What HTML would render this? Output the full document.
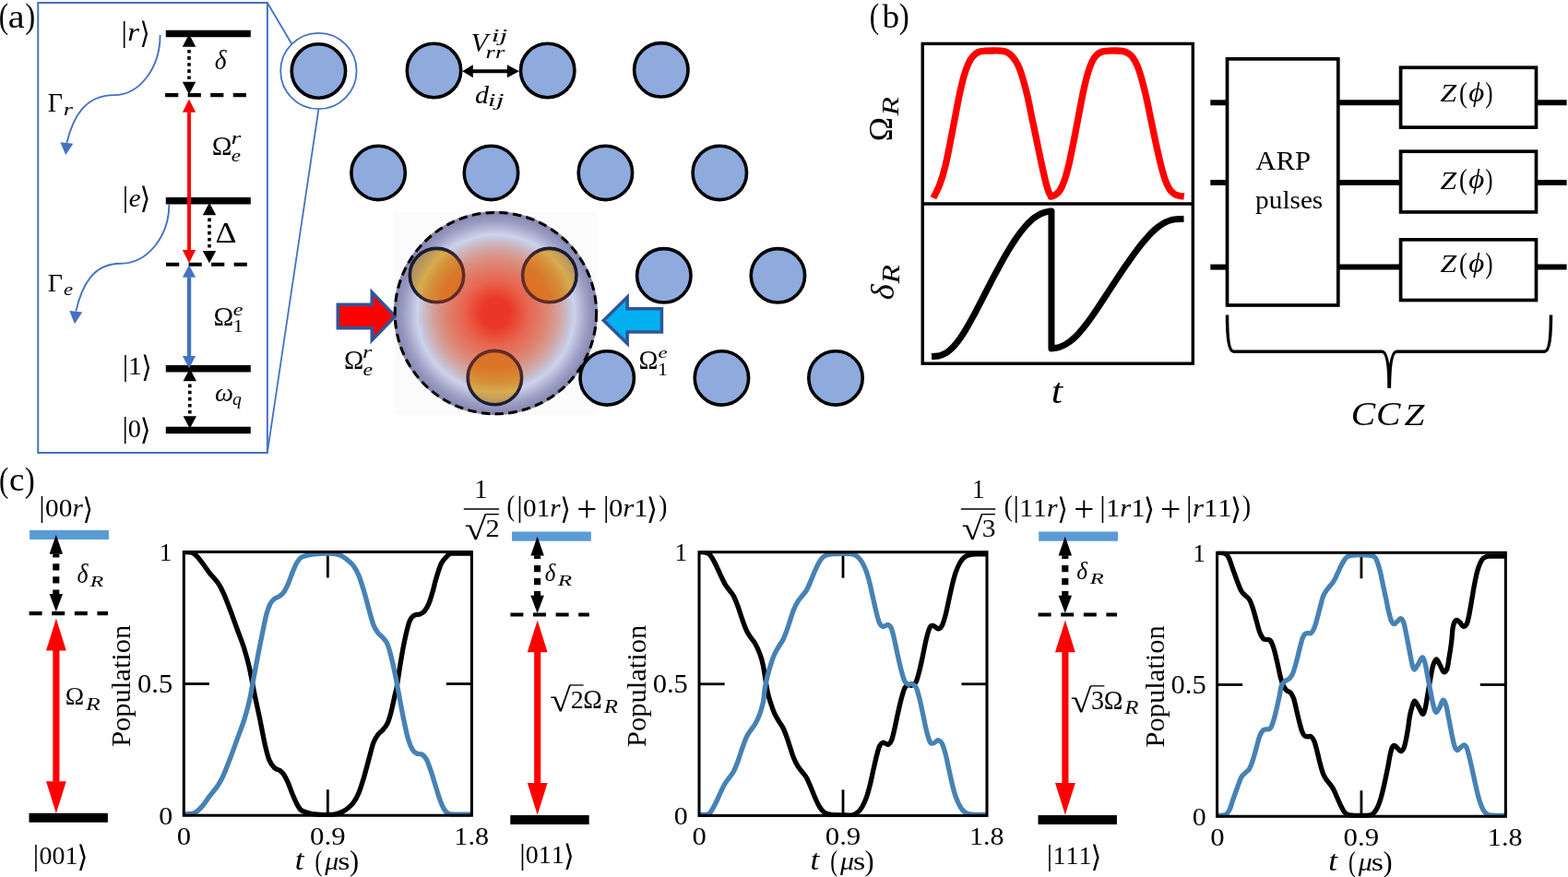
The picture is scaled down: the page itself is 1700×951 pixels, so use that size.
<!DOCTYPE html>
<html lang="en">
<head>
<meta charset="utf-8">
<title>Rydberg ARP CCZ gate figure</title>
<style>
html,body{margin:0;padding:0;background:#fff;}
body{width:1700px;height:951px;overflow:hidden;}
svg{display:block;font-family:'Liberation Serif','DejaVu Serif',serif;font-kerning:none;font-variant-ligatures:none;}
text{white-space:pre;}
</style>
</head>
<body>
<svg width="1700" height="951" viewBox="0 0 1700 951">
<defs>
<radialGradient id="gDisc" gradientUnits="userSpaceOnUse" cx="537.4" cy="339.6" r="110.60000000000001">
<stop offset="0" stop-color="#EA3527"/>
<stop offset="0.14" stop-color="#EA3729"/>
<stop offset="0.23" stop-color="#EB4E3A"/>
<stop offset="0.32" stop-color="#E76651"/>
<stop offset="0.43" stop-color="#E17966"/>
<stop offset="0.53" stop-color="#DC8C7D"/>
<stop offset="0.61" stop-color="#D4A09A"/>
<stop offset="0.68" stop-color="#CDB4BC"/>
<stop offset="0.73" stop-color="#C8C4DA"/>
<stop offset="0.77" stop-color="#CCD3EB"/>
<stop offset="0.835" stop-color="#B4B8D8"/>
<stop offset="0.9" stop-color="#9C9EC4"/>
<stop offset="0.965" stop-color="#8C8CB4"/>
<stop offset="1" stop-color="#8584AA"/>
</radialGradient>
<radialGradient id="gAtom" gradientUnits="userSpaceOnUse" cx="537.4" cy="339.6" r="110.60000000000001">
<stop offset="0.25" stop-color="#DE6E22"/>
<stop offset="0.55" stop-color="#DB7628"/>
<stop offset="0.70" stop-color="#D4933C"/>
<stop offset="0.78" stop-color="#D6AC50"/>
<stop offset="0.88" stop-color="#B8955C"/>
<stop offset="1" stop-color="#97877C"/>
</radialGradient>
<radialGradient id="gAtomS" gradientUnits="userSpaceOnUse" cx="537.4" cy="339.6" r="110.60000000000001">
<stop offset="0.3" stop-color="#6E2E28"/>
<stop offset="0.6" stop-color="#55282A"/>
<stop offset="0.8" stop-color="#1F2236"/>
<stop offset="1" stop-color="#16172A"/>
</radialGradient>
</defs>
<g id="panel-a">
<text font-size="38.93"><tspan x="-1.17" y="30.21" textLength="10.37" lengthAdjust="spacingAndGlyphs">(</tspan><tspan x="8.78" y="29.8" font-size="35.5" textLength="17.87" lengthAdjust="spacingAndGlyphs">a</tspan><tspan x="27.13" y="30.21" textLength="11.02" lengthAdjust="spacingAndGlyphs">)</tspan></text>
<rect x="41.25" y="2.97" width="248.6" height="488" fill="none" stroke="#4472C4" stroke-width="2"/>
<line x1="289.85" y1="2.97" x2="316.5" y2="48" stroke="#4472C4" stroke-width="1.8"/>
<line x1="345.4" y1="118.5" x2="289.85" y2="490.9" stroke="#4472C4" stroke-width="1.8"/>
<line x1="179.8" y1="36.55" x2="271.8" y2="36.55" stroke="#000" stroke-width="7.4"/>
<line x1="179.8" y1="217.7" x2="271.8" y2="217.7" stroke="#000" stroke-width="7.4"/>
<line x1="179.8" y1="399.8" x2="271.8" y2="399.8" stroke="#000" stroke-width="7.4"/>
<line x1="179.8" y1="466.5" x2="271.8" y2="466.5" stroke="#000" stroke-width="7.4"/>
<line x1="179.1" y1="103.1" x2="267" y2="103.1" stroke="#000" stroke-width="4.1" stroke-dasharray="14.2 10.35"/>
<line x1="180" y1="286.8" x2="268" y2="286.8" stroke="#000" stroke-width="4.1" stroke-dasharray="14.2 10.35"/>
<path d="M173.6,38 C173.6,73.81 151.15,103.1 123.7,103.1 C91.89,103.1 79.07,127.19 72.4,154.9" fill="none" stroke="#4472C4" stroke-width="1.9"/>
<polygon points="71.2,168.1 65.4,154.3 79.4,155.8" fill="#4472C4"/>
<path d="M183.4,221 C183.4,256.64 159.69,285.8 130.7,285.8 C100.69,285.8 88.59,309.89 82.3,337.6" fill="none" stroke="#4472C4" stroke-width="1.9"/>
<polygon points="80.9,351.3 75.3,337 89.3,338.5" fill="#4472C4"/>
<line x1="205" y1="50.4" x2="205" y2="89.1" stroke="#000" stroke-width="3.6" stroke-dasharray="3.6 3.5" stroke-dashoffset="3.5"/>
<polygon points="205,37 197.8,50.7 212.2,50.7" fill="#000"/>
<polygon points="205,102.5 197.8,88.8 212.2,88.8" fill="#000"/>
<line x1="205" y1="121.5" x2="205" y2="271.4" stroke="#FF0000" stroke-width="3.9"/>
<polygon points="205,107.6 197.9,121.8 212.1,121.8" fill="#FF0000"/>
<polygon points="205,285.3 197.9,271.1 212.1,271.1" fill="#FF0000"/>
<line x1="227" y1="233" x2="227" y2="272.4" stroke="#000" stroke-width="3.6" stroke-dasharray="3.6 3.5" stroke-dashoffset="3.5"/>
<polygon points="227,219.8 219.8,233.3 234.2,233.3" fill="#000"/>
<polygon points="227,285.6 219.8,272.1 234.2,272.1" fill="#000"/>
<line x1="205" y1="300.4" x2="205" y2="386.4" stroke="#4472C4" stroke-width="4.4"/>
<polygon points="205,287.2 197.9,300.7 212.1,300.7" fill="#4472C4"/>
<polygon points="205,399.6 197.9,386.1 212.1,386.1" fill="#4472C4"/>
<line x1="205.8" y1="413" x2="205.8" y2="451.6" stroke="#000" stroke-width="3.6" stroke-dasharray="3.6 3.5" stroke-dashoffset="3.5"/>
<polygon points="205.8,399.8 198.6,413.3 213,413.3" fill="#000"/>
<polygon points="205.8,464.8 198.6,451.3 213,451.3" fill="#000"/>
<text font-size="32.11"><tspan x="131.58" y="44.56" font-size="31.44" textLength="6.43" lengthAdjust="spacingAndGlyphs">|</tspan><tspan x="138.16" y="44.2" font-size="27.6" font-style="italic" textLength="12.84" lengthAdjust="spacingAndGlyphs">r</tspan><tspan x="151.61" y="47.12" font-family="'DejaVu Serif',serif" textLength="11.14" lengthAdjust="spacingAndGlyphs">⟩</tspan></text>
<text font-size="32.11"><tspan x="132.78" y="223.86" font-size="31.44" textLength="6.43" lengthAdjust="spacingAndGlyphs">|</tspan><tspan x="139.71" y="223.5" font-size="27.6" font-style="italic" textLength="12.84" lengthAdjust="spacingAndGlyphs">e</tspan><tspan x="151.47" y="226.42" font-family="'DejaVu Serif',serif" textLength="11.84" lengthAdjust="spacingAndGlyphs">⟩</tspan></text>
<text font-size="32.11"><tspan x="132.78" y="406.66" font-size="31.44" textLength="6.43" lengthAdjust="spacingAndGlyphs">|</tspan><tspan x="138.83" y="406.3" font-size="27.6" textLength="15.2" lengthAdjust="spacingAndGlyphs">1</tspan><tspan x="153.14" y="409.22" font-family="'DejaVu Serif',serif" textLength="11.49" lengthAdjust="spacingAndGlyphs">⟩</tspan></text>
<text font-size="32.11"><tspan x="132.58" y="473.96" font-size="31.44" textLength="6.43" lengthAdjust="spacingAndGlyphs">|</tspan><tspan x="138.72" y="473.6" font-size="27.6" textLength="14.16" lengthAdjust="spacingAndGlyphs">0</tspan><tspan x="151.87" y="476.52" font-family="'DejaVu Serif',serif" textLength="11.84" lengthAdjust="spacingAndGlyphs">⟩</tspan></text>
<text font-size="28.51"><tspan x="232.7" y="75.32" font-style="italic" textLength="12.74" lengthAdjust="spacingAndGlyphs">δ</tspan></text>
<text font-size="18.89"><tspan x="229.79" y="168.1" font-size="29.3" textLength="21.73" lengthAdjust="spacingAndGlyphs">Ω</tspan><tspan x="250.48" y="155.9" font-style="italic" textLength="10.74" lengthAdjust="spacingAndGlyphs">r</tspan><tspan x="250.89" y="175.01" font-size="19.13" font-style="italic" textLength="10.23" lengthAdjust="spacingAndGlyphs">e</tspan></text>
<text font-size="30.6"><tspan x="233.64" y="262.6" textLength="23.01" lengthAdjust="spacingAndGlyphs">Δ</tspan></text>
<text font-size="18.71"><tspan x="231.59" y="353.3" font-size="29.3" textLength="21.73" lengthAdjust="spacingAndGlyphs">Ω</tspan><tspan x="252.86" y="342.02" font-style="italic" textLength="10.68" lengthAdjust="spacingAndGlyphs">e</tspan><tspan x="252.7" y="359.5" font-size="18.63" textLength="10.79" lengthAdjust="spacingAndGlyphs">1</tspan></text>
<text font-size="18.13"><tspan x="233.06" y="435.23" font-size="27.59" font-style="italic" textLength="19.98" lengthAdjust="spacingAndGlyphs">ω</tspan><tspan x="252.04" y="438.74" font-style="italic" textLength="9.92" lengthAdjust="spacingAndGlyphs">q</tspan></text>
<text font-size="19.31"><tspan x="51.69" y="120.9" font-size="29.63" textLength="16.21" lengthAdjust="spacingAndGlyphs">Γ</tspan><tspan x="68.74" y="124.7" font-style="italic" textLength="10.18" lengthAdjust="spacingAndGlyphs">r</tspan></text>
<text font-size="19.34"><tspan x="51.69" y="316.4" font-size="28.25" textLength="16.21" lengthAdjust="spacingAndGlyphs">Γ</tspan><tspan x="69.1" y="320.41" font-style="italic" textLength="10.11" lengthAdjust="spacingAndGlyphs">e</tspan></text>
</g>
<g id="atoms">
<circle cx="345.4" cy="77" r="41.2" fill="none" stroke="#4472C4" stroke-width="1.8"/>
<circle cx="345.4" cy="77" r="29.2" fill="#8FAADC" stroke="#000" stroke-width="3.6"/>
<circle cx="470.5" cy="76.5" r="29.2" fill="#8FAADC" stroke="#000" stroke-width="3.6"/>
<circle cx="593.7" cy="76.5" r="29.2" fill="#8FAADC" stroke="#000" stroke-width="3.6"/>
<circle cx="716.8" cy="75.8" r="29.2" fill="#8FAADC" stroke="#000" stroke-width="3.6"/>
<circle cx="410.1" cy="187.4" r="29.2" fill="#8FAADC" stroke="#000" stroke-width="3.6"/>
<circle cx="532.5" cy="187.4" r="29.2" fill="#8FAADC" stroke="#000" stroke-width="3.6"/>
<circle cx="656.4" cy="187.4" r="29.2" fill="#8FAADC" stroke="#000" stroke-width="3.6"/>
<circle cx="780.3" cy="187.4" r="29.2" fill="#8FAADC" stroke="#000" stroke-width="3.6"/>
<line x1="510" y1="77.2" x2="554" y2="77.2" stroke="#000" stroke-width="3.9"/>
<polygon points="501.2,77.2 512.8,70.2 512.8,84.2" fill="#000"/>
<polygon points="563,77.2 549.8,70.2 549.8,84.2" fill="#000"/>
<text font-size="18.68"><tspan x="510.51" y="56.45" font-size="29.41" font-style="italic" textLength="18.56" lengthAdjust="spacingAndGlyphs">V</tspan><tspan x="532.86" y="44.51" font-size="19.2" font-style="italic" textLength="17.41" lengthAdjust="spacingAndGlyphs">ij</tspan><tspan x="526.63" y="62.7" font-style="italic" textLength="20.59" lengthAdjust="spacingAndGlyphs">rr</tspan></text>
<text font-size="18.74"><tspan x="515.09" y="111.71" font-size="27.84" font-style="italic" textLength="15.04" lengthAdjust="spacingAndGlyphs">d</tspan><tspan x="528.83" y="114.71" font-style="italic" textLength="17.64" lengthAdjust="spacingAndGlyphs">ij</tspan></text>
<rect x="427" y="229.6" width="219.8" height="220.2" fill="#FBFBFB"/>
<circle cx="537.4" cy="339.6" r="110.6" fill="url(#gDisc)" stroke="none" stroke-width="0"/>
<circle cx="473.5" cy="298.6" r="29.2" fill="url(#gAtom)" stroke="url(#gAtomS)" stroke-width="3.6"/>
<circle cx="595.8" cy="298.6" r="29.2" fill="url(#gAtom)" stroke="url(#gAtomS)" stroke-width="3.6"/>
<circle cx="536.4" cy="409.6" r="29.2" fill="url(#gAtom)" stroke="url(#gAtomS)" stroke-width="3.6"/>
<circle cx="719.8" cy="298.8" r="29.2" fill="#8FAADC" stroke="#000" stroke-width="3.6"/>
<circle cx="843.4" cy="298.8" r="29.2" fill="#8FAADC" stroke="#000" stroke-width="3.6"/>
<polygon points="366.3,330.15 403.25,330.15 403.25,316.9 428.4,342.9 403.25,368.9 403.25,355.65 366.3,355.65" fill="#FF0000" stroke="#2F5597" stroke-width="3.5" stroke-linejoin="miter"/>
<polygon points="717.45,334.75 680.15,334.75 680.15,322.1 654.4,347.4 680.15,372.7 680.15,360.05 717.45,360.05" fill="#00B0F0" stroke="#2F5597" stroke-width="3.5" stroke-linejoin="miter"/>
<circle cx="537.4" cy="339.6" r="109.2" fill="none" stroke="#000" stroke-width="3" stroke-dasharray="9.4 5.4"/>
<circle cx="658.2" cy="409.9" r="29.2" fill="#8FAADC" stroke="#000" stroke-width="3.6"/>
<circle cx="782.4" cy="409.9" r="29.2" fill="#8FAADC" stroke="#000" stroke-width="3.6"/>
<circle cx="906" cy="409.9" r="29.2" fill="#8FAADC" stroke="#000" stroke-width="3.6"/>
<text font-size="18.25"><tspan x="373.12" y="399.7" font-size="28.39" textLength="21.26" lengthAdjust="spacingAndGlyphs">Ω</tspan><tspan x="393.13" y="388.3" font-style="italic" textLength="10.29" lengthAdjust="spacingAndGlyphs">r</tspan><tspan x="393.47" y="407.01" font-size="19.13" font-style="italic" textLength="10.57" lengthAdjust="spacingAndGlyphs">e</tspan></text>
<text font-size="17.47"><tspan x="692.54" y="399.7" font-size="28.39" textLength="20.91" lengthAdjust="spacingAndGlyphs">Ω</tspan><tspan x="713.6" y="388.23" font-style="italic" textLength="10.11" lengthAdjust="spacingAndGlyphs">e</tspan><tspan x="713.35" y="407" font-size="19.24" textLength="10.51" lengthAdjust="spacingAndGlyphs">1</tspan></text>
</g>
<g id="panel-b">
<text font-size="38.93"><tspan x="942.63" y="30.21" textLength="10.37" lengthAdjust="spacingAndGlyphs">(</tspan><tspan x="956.5" y="29.8" font-size="35.5" textLength="18.62" lengthAdjust="spacingAndGlyphs">b</tspan><tspan x="974.73" y="30.21" textLength="11.02" lengthAdjust="spacingAndGlyphs">)</tspan></text>
<rect x="1000.2" y="47.4" width="293.1" height="346.8" fill="none" stroke="#000" stroke-width="3.4"/>
<line x1="1000.2" y1="221" x2="1293.3" y2="221" stroke="#000" stroke-width="3.4"/>
<path d="M1011.98,214.79C1013.14,212.29 1016.81,205.63 1018.97,199.81C1021.14,193.98 1023.13,187.16 1024.96,179.83C1026.8,172.51 1028.29,164.18 1029.96,155.86C1031.62,147.54 1033.29,138.55 1034.95,129.89C1036.62,121.24 1038.28,111.75 1039.95,103.92C1041.61,96.1 1043.28,88.77 1044.94,82.95C1046.6,77.12 1048.27,72.63 1049.93,68.97C1051.6,65.3 1053.1,63.07 1054.93,60.97C1056.76,58.88 1058.76,57.35 1060.92,56.38C1063.08,55.41 1065.25,55.41 1067.91,55.18C1070.58,54.95 1074.07,54.98 1076.9,54.98C1079.73,54.98 1082.4,54.88 1084.89,55.18C1087.39,55.48 1089.72,55.71 1091.88,56.78C1094.05,57.85 1095.88,59.21 1097.88,61.57C1099.87,63.94 1102.04,67.07 1103.87,70.96C1105.7,74.86 1107.2,79.45 1108.86,84.95C1110.53,90.44 1112.19,96.77 1113.86,103.92C1115.52,111.08 1117.19,119.9 1118.85,127.89C1120.52,135.88 1122.18,143.88 1123.85,151.87C1125.51,159.86 1127.17,168.18 1128.84,175.84C1130.5,183.49 1132.44,192.32 1133.83,197.81C1135.23,203.3 1136.26,206.23 1137.23,208.8C1138.19,211.36 1139.23,212.46 1139.63,213.19 L1139.39,213.19C1140.16,212.89 1142.39,212.46 1143.99,211.39C1145.59,210.33 1147.32,209.4 1148.98,206.8C1150.65,204.2 1152.31,200.64 1153.98,195.81C1155.64,190.99 1157.31,184.83 1158.97,177.83C1160.64,170.84 1162.3,162.19 1163.97,153.86C1165.63,145.54 1167.29,136.55 1168.96,127.89C1170.62,119.24 1172.29,109.75 1173.95,101.93C1175.62,94.1 1177.28,86.78 1178.95,80.95C1180.61,75.12 1182.28,70.53 1183.94,66.97C1185.61,63.41 1187.1,61.41 1188.94,59.58C1190.77,57.75 1192.76,56.71 1194.93,55.98C1197.09,55.25 1199.59,55.35 1201.92,55.18C1204.25,55.02 1206.41,54.95 1208.91,54.98C1211.41,55.02 1214.57,54.95 1216.9,55.38C1219.23,55.81 1221.06,56.48 1222.89,57.58C1224.73,58.68 1226.22,59.74 1227.89,61.97C1229.55,64.2 1231.22,66.97 1232.88,70.96C1234.55,74.96 1236.21,80.12 1237.88,85.94C1239.54,91.77 1241.21,98.6 1242.87,105.92C1244.54,113.25 1246.2,121.9 1247.86,129.89C1249.53,137.88 1251.19,146.21 1252.86,153.86C1254.52,161.52 1256.19,169.18 1257.85,175.84C1259.52,182.5 1261.18,188.99 1262.85,193.82C1264.51,198.64 1266.18,202.07 1267.84,204.8C1269.51,207.53 1271.17,208.96 1272.83,210.2C1274.5,211.43 1276,211.73 1277.83,212.19C1279.66,212.66 1282.82,212.86 1283.82,212.99" fill="none" stroke="#FF0000" stroke-width="7.3" stroke-linejoin="round"/>
<path d="M1009.98,386.6C1010.73,386.56 1012.97,386.52 1014.46,386.35C1015.96,386.19 1017.45,386.01 1018.94,385.61C1020.44,385.21 1021.93,384.7 1023.42,383.97C1024.92,383.24 1026.41,382.33 1027.91,381.23C1029.4,380.12 1030.89,378.81 1032.39,377.32C1033.88,375.84 1035.38,374.14 1036.87,372.3C1038.36,370.46 1039.86,368.43 1041.35,366.27C1042.84,364.12 1044.34,361.79 1045.83,359.38C1047.33,356.97 1048.82,354.41 1050.31,351.8C1051.81,349.19 1053.3,346.46 1054.79,343.7C1056.29,340.94 1057.78,338.09 1059.28,335.24C1060.77,332.38 1062.26,329.47 1063.76,326.56C1065.25,323.66 1066.75,320.72 1068.24,317.8C1069.73,314.89 1071.23,311.96 1072.72,309.07C1074.21,306.18 1075.71,303.29 1077.2,300.45C1078.7,297.61 1080.19,294.79 1081.68,292.02C1083.18,289.26 1084.67,286.52 1086.16,283.85C1087.66,281.18 1089.15,278.56 1090.65,276C1092.14,273.45 1093.63,270.95 1095.13,268.53C1096.62,266.12 1098.12,263.77 1099.61,261.51C1101.1,259.26 1102.6,257.07 1104.09,255C1105.58,252.93 1107.08,250.95 1108.57,249.09C1110.07,247.23 1111.56,245.47 1113.05,243.85C1114.55,242.23 1116.04,240.72 1117.53,239.36C1119.03,238 1120.52,236.76 1122.02,235.68C1123.51,234.6 1125,233.65 1126.5,232.85C1127.99,232.05 1129.48,231.4 1130.98,230.87C1132.47,230.34 1133.97,229.96 1135.46,229.65C1136.95,229.34 1139.19,229.11 1139.94,229.01 L1139.94,378.04C1140.77,377.91 1143.24,377.63 1144.89,377.28C1146.54,376.93 1148.19,376.52 1149.84,375.92C1151.49,375.33 1153.14,374.6 1154.79,373.7C1156.45,372.79 1158.1,371.73 1159.75,370.5C1161.4,369.27 1163.05,367.87 1164.7,366.33C1166.35,364.79 1168,363.09 1169.65,361.28C1171.3,359.47 1172.95,357.51 1174.6,355.47C1176.25,353.43 1177.9,351.27 1179.55,349.05C1181.2,346.83 1182.85,344.51 1184.5,342.16C1186.15,339.81 1187.8,337.38 1189.45,334.94C1191.1,332.5 1192.75,330.01 1194.4,327.51C1196.05,325.02 1197.7,322.49 1199.35,319.97C1201,317.45 1202.65,314.92 1204.3,312.4C1205.96,309.88 1207.61,307.36 1209.26,304.86C1210.91,302.36 1212.56,299.87 1214.21,297.4C1215.86,294.94 1217.51,292.48 1219.16,290.07C1220.81,287.65 1222.46,285.26 1224.11,282.91C1225.76,280.56 1227.41,278.24 1229.06,275.98C1230.71,273.72 1232.36,271.5 1234.01,269.35C1235.66,267.2 1237.31,265.1 1238.96,263.09C1240.61,261.08 1242.26,259.13 1243.91,257.3C1245.56,255.46 1247.21,253.7 1248.86,252.08C1250.51,250.46 1252.16,248.93 1253.82,247.56C1255.47,246.18 1257.12,244.92 1258.77,243.82C1260.42,242.72 1262.07,241.77 1263.72,240.96C1265.37,240.16 1267.02,239.52 1268.67,239.01C1270.32,238.5 1271.97,238.16 1273.62,237.9C1275.27,237.65 1276.92,237.56 1278.57,237.47C1280.22,237.38 1282.7,237.39 1283.52,237.37" fill="none" stroke="#000" stroke-width="7" stroke-linejoin="round"/>
<text font-size="25.2" transform="rotate(-90)"><tspan x="-153.13" y="967.4" font-size="36.85" textLength="26.26" lengthAdjust="spacingAndGlyphs">Ω</tspan><tspan x="-125.62" y="973.7" font-style="italic" textLength="20.37" lengthAdjust="spacingAndGlyphs">R</tspan></text>
<text font-size="26.42" transform="rotate(-90)"><tspan x="-325.27" y="969.14" font-size="36.84" font-style="italic" textLength="16.99" lengthAdjust="spacingAndGlyphs">δ</tspan><tspan x="-307.42" y="975" font-style="italic" textLength="20.37" lengthAdjust="spacingAndGlyphs">R</tspan></text>
<text font-size="37.36"><tspan x="1139.86" y="437.44" font-style="italic" textLength="12.26" lengthAdjust="spacingAndGlyphs">t</tspan></text>
<line x1="1312.3" y1="111.3" x2="1330.5" y2="111.3" stroke="#000" stroke-width="6"/>
<line x1="1450.8" y1="111.3" x2="1518.6" y2="111.3" stroke="#000" stroke-width="6"/>
<line x1="1665.5" y1="111.3" x2="1698.6" y2="111.3" stroke="#000" stroke-width="6"/>
<line x1="1312.3" y1="198" x2="1330.5" y2="198" stroke="#000" stroke-width="6"/>
<line x1="1450.8" y1="198" x2="1518.6" y2="198" stroke="#000" stroke-width="6"/>
<line x1="1665.5" y1="198" x2="1698.6" y2="198" stroke="#000" stroke-width="6"/>
<line x1="1312.3" y1="289.6" x2="1330.5" y2="289.6" stroke="#000" stroke-width="6"/>
<line x1="1450.8" y1="289.6" x2="1518.6" y2="289.6" stroke="#000" stroke-width="6"/>
<line x1="1665.5" y1="289.6" x2="1698.6" y2="289.6" stroke="#000" stroke-width="6"/>
<rect x="1330.5" y="63.9" width="120.3" height="267.1" fill="#fff" stroke="#000" stroke-width="3.7"/>
<rect x="1518.6" y="73.25" width="146.9" height="64.85" fill="#fff" stroke="#000" stroke-width="3.7"/>
<text font-size="31.32"><tspan x="1561.61" y="110.1" font-size="28.25" font-style="italic" textLength="17.62" lengthAdjust="spacingAndGlyphs">Z</tspan><tspan x="1582.12" y="110.63" textLength="8.95" lengthAdjust="spacingAndGlyphs">(</tspan><tspan x="1592.35" y="109.85" font-size="28.89" font-style="italic" textLength="17.03" lengthAdjust="spacingAndGlyphs">ϕ</tspan><tspan x="1610.2" y="110.63" textLength="8.3" lengthAdjust="spacingAndGlyphs">)</tspan></text>
<rect x="1518.6" y="164.2" width="146.9" height="65.75" fill="#fff" stroke="#000" stroke-width="3.7"/>
<text font-size="31.32"><tspan x="1561.61" y="204.6" font-size="28.25" font-style="italic" textLength="17.62" lengthAdjust="spacingAndGlyphs">Z</tspan><tspan x="1582.12" y="205.13" textLength="8.95" lengthAdjust="spacingAndGlyphs">(</tspan><tspan x="1592.35" y="204.35" font-size="28.89" font-style="italic" textLength="17.03" lengthAdjust="spacingAndGlyphs">ϕ</tspan><tspan x="1610.2" y="205.13" textLength="8.3" lengthAdjust="spacingAndGlyphs">)</tspan></text>
<rect x="1518.6" y="259.85" width="146.9" height="65.65" fill="#fff" stroke="#000" stroke-width="3.7"/>
<text font-size="31.32"><tspan x="1561.61" y="295.1" font-size="28.25" font-style="italic" textLength="17.62" lengthAdjust="spacingAndGlyphs">Z</tspan><tspan x="1582.12" y="295.63" textLength="8.95" lengthAdjust="spacingAndGlyphs">(</tspan><tspan x="1592.35" y="294.85" font-size="28.89" font-style="italic" textLength="17.03" lengthAdjust="spacingAndGlyphs">ϕ</tspan><tspan x="1610.2" y="295.63" textLength="8.3" lengthAdjust="spacingAndGlyphs">)</tspan></text>
<text font-size="29.39"><tspan x="1361.3" y="184.3" textLength="59.93" lengthAdjust="spacingAndGlyphs">ARP</tspan></text>
<text font-size="28"><tspan x="1361.13" y="226.2" textLength="73.13" lengthAdjust="spacingAndGlyphs">pulses</tspan></text>
<path d="M1330.5,341.5 C1330.5,363.5 1332.0,381.2 1337.5,381.2 L1498.3,381.2 C1503.8,381.2 1506.0,397.2 1506.3,420.8 C1506.6,397.2 1508.8,381.2 1514.3,381.2 L1674.5,381.2 C1680.0,381.2 1681.5,363.5 1681.5,341.5" fill="none" stroke="#000" stroke-width="3.5" stroke-linejoin="bevel"/>
<line x1="1506.3" y1="395.2" x2="1506.3" y2="420.8" stroke="#000" stroke-width="3.5"/>
<text font-size="35"><tspan x="1464.69" y="461.28" font-style="italic" textLength="26.44" lengthAdjust="spacingAndGlyphs">C</tspan><tspan x="1491.99" y="461.28" font-style="italic" textLength="26.44" lengthAdjust="spacingAndGlyphs">C</tspan><tspan x="1522.52" y="461" font-size="33.9" font-style="italic" textLength="21.85" lengthAdjust="spacingAndGlyphs">Z</tspan></text>
</g>
<g id="panel-c">
<text font-size="38.93"><tspan x="-0.97" y="532.81" textLength="10.37" lengthAdjust="spacingAndGlyphs">(</tspan><tspan x="10.1" y="532.4" font-size="35.5" textLength="16.33" lengthAdjust="spacingAndGlyphs">c</tspan><tspan x="26.73" y="532.81" textLength="11.02" lengthAdjust="spacingAndGlyphs">)</tspan></text>
<line x1="32.1" y1="580" x2="117.95" y2="580" stroke="#5B9BD5" stroke-width="10.2"/>
<line x1="31.5" y1="886.8" x2="116.9" y2="886.8" stroke="#000" stroke-width="10.1"/>
<line x1="31.6" y1="665.1" x2="117" y2="665.1" stroke="#000" stroke-width="4.2" stroke-dasharray="14 10.6"/>
<line x1="60.8" y1="600.5" x2="60.8" y2="644.4" stroke="#000" stroke-width="7.1" stroke-dasharray="7.2 6.87" stroke-dashoffset="3.3"/>
<polygon points="60.8,580.1 53.55,600.8 68.05,600.8" fill="#000"/>
<polygon points="60.8,663.3 53.55,644.1 68.05,644.1" fill="#000"/>
<line x1="60.9" y1="705.1" x2="60.9" y2="847.6" stroke="#FF0000" stroke-width="7.1"/>
<polygon points="60.9,670.8 50,705.4 71.8,705.4" fill="#FF0000"/>
<polygon points="60.9,881.9 50,847.3 71.8,847.3" fill="#FF0000"/>
<line x1="555" y1="581.7" x2="640.85" y2="581.7" stroke="#5B9BD5" stroke-width="10.2"/>
<line x1="553.3" y1="889" x2="638.7" y2="889" stroke="#000" stroke-width="10.1"/>
<line x1="553.4" y1="666.5" x2="638.8" y2="666.5" stroke="#000" stroke-width="4.2" stroke-dasharray="14 10.6"/>
<line x1="582.6" y1="602.2" x2="582.6" y2="646.1" stroke="#000" stroke-width="7.1" stroke-dasharray="7.2 6.87" stroke-dashoffset="3.3"/>
<polygon points="582.6,581.8 575.35,602.5 589.85,602.5" fill="#000"/>
<polygon points="582.6,665 575.35,645.8 589.85,645.8" fill="#000"/>
<line x1="582.7" y1="706.9" x2="582.7" y2="849.4" stroke="#FF0000" stroke-width="7.1"/>
<polygon points="582.7,672.6 571.8,707.2 593.6,707.2" fill="#FF0000"/>
<polygon points="582.7,883.7 571.8,849.1 593.6,849.1" fill="#FF0000"/>
<line x1="1126.2" y1="581.7" x2="1212.05" y2="581.7" stroke="#5B9BD5" stroke-width="10.2"/>
<line x1="1125.5" y1="889" x2="1210.9" y2="889" stroke="#000" stroke-width="10.1"/>
<line x1="1125.6" y1="666.5" x2="1211" y2="666.5" stroke="#000" stroke-width="4.2" stroke-dasharray="14 10.6"/>
<line x1="1154.8" y1="602.2" x2="1154.8" y2="646.1" stroke="#000" stroke-width="7.1" stroke-dasharray="7.2 6.87" stroke-dashoffset="3.3"/>
<polygon points="1154.8,581.8 1147.55,602.5 1162.05,602.5" fill="#000"/>
<polygon points="1154.8,665 1147.55,645.8 1162.05,645.8" fill="#000"/>
<line x1="1154.9" y1="706.9" x2="1154.9" y2="849.4" stroke="#FF0000" stroke-width="7.1"/>
<polygon points="1154.9,672.6 1144,707.2 1165.8,707.2" fill="#FF0000"/>
<polygon points="1154.9,883.7 1144,849.1 1165.8,849.1" fill="#FF0000"/>
<text font-size="27.6"><tspan x="42.18" y="559.96" font-size="31.44" textLength="6.43" lengthAdjust="spacingAndGlyphs">|</tspan><tspan x="49.08" y="559.6" textLength="29.32" lengthAdjust="spacingAndGlyphs">00</tspan><tspan x="78.4" y="559.6" font-style="italic" textLength="11.41" lengthAdjust="spacingAndGlyphs">r</tspan><tspan x="89.44" y="562.52" font-size="32.11" font-family="'DejaVu Serif',serif" textLength="11.49" lengthAdjust="spacingAndGlyphs">⟩</tspan></text>
<text font-size="32.11"><tspan x="35.78" y="937.56" font-size="31.44" textLength="6.43" lengthAdjust="spacingAndGlyphs">|</tspan><tspan x="42.64" y="937.2" font-size="27.6" textLength="41.84" lengthAdjust="spacingAndGlyphs">001</tspan><tspan x="83.53" y="940.12" font-family="'DejaVu Serif',serif" textLength="12.02" lengthAdjust="spacingAndGlyphs">⟩</tspan></text>
<text font-size="17.26"><tspan x="83.54" y="631.52" font-size="28.65" font-style="italic" textLength="12.02" lengthAdjust="spacingAndGlyphs">δ</tspan><tspan x="97.83" y="635.9" font-style="italic" textLength="14.47" lengthAdjust="spacingAndGlyphs">R</tspan></text>
<text font-size="26.58"><tspan x="70.78" y="763.8" textLength="20.45" lengthAdjust="spacingAndGlyphs">Ω</tspan><tspan x="92.94" y="769.8" font-size="18.94" font-style="italic" textLength="15.69" lengthAdjust="spacingAndGlyphs">R</tspan></text>
<line x1="502.8" y1="551.9" x2="541.1" y2="551.9" stroke="#000" stroke-width="1.5"/>
<line x1="527.1" y1="557.65" x2="540.8" y2="557.65" stroke="#000" stroke-width="1.4"/>
<text font-size="27.19"><tspan x="513.93" y="540.4" font-size="28.48" textLength="14.63" lengthAdjust="spacingAndGlyphs">1</tspan><tspan x="503.72" y="585.06" font-size="35.47" textLength="23.82" lengthAdjust="spacingAndGlyphs">√</tspan><tspan x="526.56" y="581.8" textLength="15.22" lengthAdjust="spacingAndGlyphs">2</tspan></text>
<text font-size="27.6"><tspan x="549.55" y="559.38" font-size="31.1" textLength="8.69" lengthAdjust="spacingAndGlyphs">(</tspan><tspan x="560.38" y="560.06" font-size="31.44" textLength="6.43" lengthAdjust="spacingAndGlyphs">|</tspan><tspan x="567.09" y="559.7" textLength="29.17" lengthAdjust="spacingAndGlyphs">01</tspan><tspan x="596.26" y="559.7" font-style="italic" textLength="11.35" lengthAdjust="spacingAndGlyphs">r</tspan><tspan x="607.31" y="562.62" font-size="32.11" font-family="'DejaVu Serif',serif" textLength="11.67" lengthAdjust="spacingAndGlyphs">⟩</tspan><tspan x="615.37" y="565.27" font-size="39.07" textLength="41.61" lengthAdjust="spacingAndGlyphs"> + </tspan><tspan x="653.98" y="560.06" font-size="31.44" textLength="6.43" lengthAdjust="spacingAndGlyphs">|</tspan><tspan x="659.93" y="559.7" textLength="15.34" lengthAdjust="spacingAndGlyphs">0</tspan><tspan x="675.27" y="559.7" font-style="italic" textLength="11.94" lengthAdjust="spacingAndGlyphs">r</tspan><tspan x="687.21" y="559.7" textLength="15.34" lengthAdjust="spacingAndGlyphs">1</tspan><tspan x="700.76" y="562.62" font-size="32.11" font-family="'DejaVu Serif',serif" textLength="12.37" lengthAdjust="spacingAndGlyphs">⟩</tspan><tspan x="714.22" y="559.38" font-size="31.1" textLength="9.08" lengthAdjust="spacingAndGlyphs">)</tspan></text>
<text font-size="16.65"><tspan x="590.87" y="629.74" font-size="26.96" font-style="italic" textLength="11.6" lengthAdjust="spacingAndGlyphs">δ</tspan><tspan x="604.84" y="634.9" font-style="italic" textLength="15.38" lengthAdjust="spacingAndGlyphs">R</tspan></text>
<line x1="1041.8" y1="551.9" x2="1079.3" y2="551.9" stroke="#000" stroke-width="1.5"/>
<line x1="1065.3" y1="557.65" x2="1079" y2="557.65" stroke="#000" stroke-width="1.4"/>
<text font-size="26.79"><tspan x="1053.75" y="540.4" font-size="28.48" textLength="13.92" lengthAdjust="spacingAndGlyphs">1</tspan><tspan x="1042.76" y="585.06" font-size="35.47" textLength="22.98" lengthAdjust="spacingAndGlyphs">√</tspan><tspan x="1064.69" y="581.54" textLength="14.77" lengthAdjust="spacingAndGlyphs">3</tspan></text>
<text font-size="27.6"><tspan x="1088.8" y="559.38" font-size="31.1" textLength="9.08" lengthAdjust="spacingAndGlyphs">(</tspan><tspan x="1098.58" y="560.06" font-size="31.44" textLength="6.43" lengthAdjust="spacingAndGlyphs">|</tspan><tspan x="1105.3" y="559.7" textLength="29.6" lengthAdjust="spacingAndGlyphs">11</tspan><tspan x="1134.9" y="559.7" font-style="italic" textLength="11.52" lengthAdjust="spacingAndGlyphs">r</tspan><tspan x="1146.31" y="562.62" font-size="32.11" font-family="'DejaVu Serif',serif" textLength="11.67" lengthAdjust="spacingAndGlyphs">⟩</tspan><tspan x="1154.47" y="565.27" font-size="39.07" textLength="41.61" lengthAdjust="spacingAndGlyphs"> + </tspan><tspan x="1192.28" y="560.06" font-size="31.44" textLength="6.43" lengthAdjust="spacingAndGlyphs">|</tspan><tspan x="1199.01" y="559.7" textLength="15.31" lengthAdjust="spacingAndGlyphs">1</tspan><tspan x="1214.32" y="559.7" font-style="italic" textLength="11.91" lengthAdjust="spacingAndGlyphs">r</tspan><tspan x="1226.23" y="559.7" textLength="15.31" lengthAdjust="spacingAndGlyphs">1</tspan><tspan x="1239.86" y="562.62" font-size="32.11" font-family="'DejaVu Serif',serif" textLength="12.37" lengthAdjust="spacingAndGlyphs">⟩</tspan><tspan x="1248.15" y="565.27" font-size="39.07" textLength="42.07" lengthAdjust="spacingAndGlyphs"> + </tspan><tspan x="1285.98" y="560.06" font-size="31.44" textLength="6.43" lengthAdjust="spacingAndGlyphs">|</tspan><tspan x="1292.95" y="559.7" font-style="italic" textLength="11.96" lengthAdjust="spacingAndGlyphs">r</tspan><tspan x="1304.91" y="559.7" textLength="30.73" lengthAdjust="spacingAndGlyphs">11</tspan><tspan x="1334.1" y="562.62" font-size="32.11" font-family="'DejaVu Serif',serif" textLength="12.2" lengthAdjust="spacingAndGlyphs">⟩</tspan><tspan x="1346.7" y="559.38" font-size="31.1" textLength="9.34" lengthAdjust="spacingAndGlyphs">)</tspan></text>
<text font-size="16.8"><tspan x="1167.36" y="628.33" font-size="27.24" font-style="italic" textLength="11.81" lengthAdjust="spacingAndGlyphs">δ</tspan><tspan x="1181.83" y="633.3" font-style="italic" textLength="14.98" lengthAdjust="spacingAndGlyphs">R</tspan></text>
<text font-size="32.11"><tspan x="563.18" y="936.76" font-size="31.44" textLength="6.43" lengthAdjust="spacingAndGlyphs">|</tspan><tspan x="569.74" y="936.4" font-size="27.6" textLength="41.94" lengthAdjust="spacingAndGlyphs">011</tspan><tspan x="611.11" y="939.32" font-family="'DejaVu Serif',serif" textLength="11.67" lengthAdjust="spacingAndGlyphs">⟩</tspan></text>
<text font-size="32.11"><tspan x="1134.68" y="937.76" font-size="31.44" textLength="6.43" lengthAdjust="spacingAndGlyphs">|</tspan><tspan x="1141.54" y="937.4" font-size="27.6" textLength="42.05" lengthAdjust="spacingAndGlyphs">111</tspan><tspan x="1182.47" y="940.32" font-family="'DejaVu Serif',serif" textLength="11.84" lengthAdjust="spacingAndGlyphs">⟩</tspan></text>
<line x1="617.9" y1="742.95" x2="632.6" y2="742.95" stroke="#000" stroke-width="1.3"/>
<text font-size="27.94"><tspan x="596.27" y="770.75" font-size="35.85" textLength="22.67" lengthAdjust="spacingAndGlyphs">√</tspan><tspan x="618.77" y="768.1" textLength="13.97" lengthAdjust="spacingAndGlyphs">2</tspan><tspan x="632.37" y="768.1" font-size="30.06" textLength="20.56" lengthAdjust="spacingAndGlyphs">Ω</tspan><tspan x="654.73" y="772.8" font-size="20.31" font-style="italic" textLength="15.18" lengthAdjust="spacingAndGlyphs">R</tspan></text>
<line x1="1182.5" y1="743.85" x2="1197.4" y2="743.85" stroke="#000" stroke-width="1.3"/>
<text font-size="35.85"><tspan x="1160.87" y="771.65" textLength="22.67" lengthAdjust="spacingAndGlyphs">√</tspan><tspan x="1183.06" y="769.02" font-size="28.58" textLength="14.04" lengthAdjust="spacingAndGlyphs">3</tspan><tspan x="1196.86" y="768.9" font-size="30.06" textLength="20.68" lengthAdjust="spacingAndGlyphs">Ω</tspan><tspan x="1219.23" y="773.6" font-size="20.31" font-style="italic" textLength="15.18" lengthAdjust="spacingAndGlyphs">R</tspan></text>
<clipPath id="clip199"><rect x="199.3" y="597" width="312.1" height="288.7"/></clipPath>
<line x1="355.35" y1="598.5" x2="355.35" y2="626.5" stroke="#000" stroke-width="2.8"/>
<line x1="355.35" y1="884.2" x2="355.35" y2="856.2" stroke="#000" stroke-width="2.8"/>
<line x1="199.3" y1="741.55" x2="226.9" y2="741.55" stroke="#000" stroke-width="2.8"/>
<line x1="511.4" y1="741.55" x2="483.8" y2="741.55" stroke="#000" stroke-width="2.8"/>
<g clip-path="url(#clip199)" stroke-linejoin="round">
<path d="M199.33,598.66C200.49,598.69 204.51,598.6 206.29,598.85C208.08,599.1 208.8,599.38 210.06,600.16C211.31,600.95 212.25,601.8 213.82,603.55C215.39,605.31 217.27,607.79 219.47,610.71C221.67,613.62 224.18,617.45 227,621.06C229.82,624.67 233.9,628.75 236.41,632.35C238.92,635.96 239.86,637.84 242.06,642.71C244.25,647.57 247.08,654.94 249.59,661.53C252.1,668.12 254.61,675.33 257.12,682.24C259.63,689.14 262.45,696.04 264.65,702.94C266.84,709.84 268.41,715.36 270.29,723.65C272.18,731.93 274.06,743.41 275.94,752.64C277.82,761.86 279.71,769.89 281.59,778.99C283.47,788.09 285.51,799.69 287.24,807.22C288.96,814.75 290.22,819.93 291.94,824.16C293.67,828.4 295.71,830.75 297.59,832.64C299.47,834.52 301.51,834.2 303.24,835.46C304.96,836.71 306.37,837.81 307.94,840.16C309.51,842.52 311.08,845.97 312.65,849.58C314.22,853.18 315.78,858.05 317.35,861.81C318.92,865.58 320.49,869.34 322.06,872.16C323.63,874.99 324.57,877.15 326.76,878.75C328.96,880.35 332.82,881.07 335.24,881.76C337.65,882.45 339.28,882.61 341.26,882.89C343.24,883.18 344.74,883.36 347.09,883.46C349.45,883.56 352.84,883.54 355.38,883.5C357.92,883.45 360.3,883.48 362.34,883.2C364.38,882.91 366.01,882.32 367.61,881.76C369.21,881.21 370.28,880.85 371.94,879.88C373.6,878.91 375.71,877.53 377.59,875.93C379.47,874.33 381.35,872.95 383.24,870.28C385.12,867.62 387,864.48 388.88,859.93C390.76,855.38 392.65,849.26 394.53,842.99C396.41,836.71 398.45,828.56 400.18,822.28C401.9,816.01 403.31,809.58 404.88,805.34C406.45,801.11 407.86,799.22 409.59,796.87C411.31,794.52 413.51,793.26 415.24,791.22C416.96,789.18 418.53,787.62 419.94,784.64C421.35,781.65 422.29,778.67 423.71,773.34C425.12,768.01 427.31,757.47 428.41,752.64C429.51,747.8 429.2,750.75 430.29,744.35C431.39,737.95 433.43,723.33 435,714.24C436.57,705.14 438.14,696.67 439.71,689.76C441.27,682.86 442.84,676.59 444.41,672.82C445.98,669.06 447.24,668.34 449.12,667.18C451,666.02 453.82,666.64 455.71,665.86C457.59,665.07 458.84,664.45 460.41,662.47C461.98,660.49 463.55,657.92 465.12,654C466.69,650.08 468.66,642.96 469.82,638.94C470.98,634.93 470.83,634.14 472.08,629.91C473.34,625.67 476.07,617.04 477.35,613.53C478.64,610.02 478.95,610.17 479.8,608.82C480.65,607.47 481.21,606.75 482.44,605.44C483.66,604.12 485.57,601.81 487.14,600.92C488.71,600.02 487.83,600.21 491.85,600.07C495.86,599.93 508,600.05 511.24,600.05" fill="none" stroke="#000" stroke-width="5.3"/>
<path d="M199.33,883.08C200.96,882.93 206.7,882.71 209.12,882.14C211.53,881.58 212.1,881.04 213.82,879.69C215.55,878.35 217.27,876.71 219.47,874.05C221.67,871.38 224.18,867.46 227,863.69C229.82,859.93 233.9,855.22 236.41,851.46C238.92,847.69 239.86,845.97 242.06,841.11C244.25,836.24 247.08,828.87 249.59,822.28C252.1,815.69 254.61,808.48 257.12,801.58C259.63,794.67 262.45,787.77 264.65,780.87C266.84,773.97 268.73,766.88 270.29,760.16C271.86,753.45 272.49,748.87 274.06,740.59C275.63,732.31 277.82,720.2 279.71,710.47C281.59,700.75 283.78,689.76 285.35,682.24C286.92,674.71 287.86,669.84 289.12,665.29C290.37,660.75 291.47,657.61 292.88,654.94C294.29,652.27 295.86,650.71 297.59,649.29C299.31,647.88 301.51,647.73 303.24,646.47C304.96,645.22 306.37,644.12 307.94,641.76C309.51,639.41 311.08,635.96 312.65,632.35C314.22,628.75 315.78,623.88 317.35,620.12C318.92,616.35 320.49,612.4 322.06,609.76C323.63,607.13 324.57,605.63 326.76,604.31C328.96,602.98 332.82,602.39 335.24,601.8C337.65,601.22 339.28,601.06 341.26,600.8C343.24,600.55 344.74,600.4 347.09,600.3C349.45,600.2 352.84,600.18 355.38,600.2C357.92,600.22 360.3,600.14 362.34,600.41C364.38,600.68 366.01,601.25 367.61,601.8C369.21,602.36 370.28,602.73 371.94,603.74C373.6,604.75 375.71,606.25 377.59,607.88C379.47,609.51 381.35,610.86 383.24,613.53C385.12,616.2 387,619.33 388.88,623.88C390.76,628.43 392.65,634.55 394.53,640.82C396.41,647.1 398.45,655.41 400.18,661.53C401.9,667.65 403.31,673.45 404.88,677.53C406.45,681.61 407.86,683.65 409.59,686C411.31,688.35 413.51,689.61 415.24,691.65C416.96,693.69 418.53,695.1 419.94,698.24C421.35,701.37 422.29,704.98 423.71,710.47C425.12,715.96 426.84,723.52 428.41,731.18C429.98,738.83 431.55,748.12 433.12,756.4C434.69,764.68 436.25,773.34 437.82,780.87C439.39,788.4 440.96,796.24 442.53,801.58C444.1,806.91 445.67,810.27 447.24,812.87C448.8,815.47 450.22,816.32 451.94,817.2C453.67,818.08 455.86,817.14 457.59,818.14C459.31,819.15 460.73,820.34 462.29,823.22C463.86,826.11 465.43,830.91 467,835.46C468.57,840.01 470.14,845.5 471.71,850.52C473.27,855.54 474.84,861.18 476.41,865.58C477.98,869.97 479.55,874.11 481.12,876.87C482.69,879.63 483.94,881.11 485.82,882.14C487.71,883.18 488.21,882.93 492.41,883.08C496.62,883.24 507.94,883.08 511.05,883.08" fill="none" stroke="#4682B4" stroke-width="5.3"/>
</g>
<rect x="199.3" y="598.5" width="312.1" height="285.7" fill="none" stroke="#000" stroke-width="3.05"/>
<g transform="translate(0,0)">
<text font-size="27.87"><tspan x="172.8" y="608" textLength="13.63" lengthAdjust="spacingAndGlyphs">1</tspan></text>
<text font-size="28.42"><tspan x="149.04" y="751.2" textLength="38.15" lengthAdjust="spacingAndGlyphs">0.5</tspan></text>
<text font-size="27.12"><tspan x="172.16" y="894.14" textLength="14.98" lengthAdjust="spacingAndGlyphs">0</tspan></text>
<text font-size="28.16"><tspan x="191.83" y="916.13" textLength="15.34" lengthAdjust="spacingAndGlyphs">0</tspan></text>
<text font-size="27.97"><tspan x="336.03" y="916" textLength="38.54" lengthAdjust="spacingAndGlyphs">0.9</tspan></text>
<text font-size="27.97"><tspan x="492.36" y="916" textLength="37.59" lengthAdjust="spacingAndGlyphs">1.8</tspan></text>
<text font-size="27"><tspan x="319.86" y="943.2" font-size="31.08" font-style="italic" textLength="9.74" lengthAdjust="spacingAndGlyphs">t</tspan><tspan x="335.52" y="943.93" font-size="30.88" textLength="13.85" lengthAdjust="spacingAndGlyphs"> (</tspan><tspan x="352.33" y="943.3" font-style="italic" textLength="14.96" lengthAdjust="spacingAndGlyphs">μ</tspan><tspan x="366.31" y="943.3" textLength="13.22" lengthAdjust="spacingAndGlyphs">s</tspan><tspan x="378.92" y="943.93" font-size="30.88" textLength="10.11" lengthAdjust="spacingAndGlyphs">)</tspan></text>
<text font-size="28.4" transform="rotate(-90)"><tspan x="-809.88" y="141.4" textLength="132.24" lengthAdjust="spacingAndGlyphs">Population</tspan></text>
</g>
<clipPath id="clip758"><rect x="758" y="597.2" width="312" height="288.7"/></clipPath>
<line x1="914" y1="598.7" x2="914" y2="626.7" stroke="#000" stroke-width="2.8"/>
<line x1="914" y1="884.4" x2="914" y2="856.4" stroke="#000" stroke-width="2.8"/>
<line x1="758" y1="741.75" x2="785.6" y2="741.75" stroke="#000" stroke-width="2.8"/>
<line x1="1070" y1="741.75" x2="1042.4" y2="741.75" stroke="#000" stroke-width="2.8"/>
<g clip-path="url(#clip758)" stroke-linejoin="round">
<path d="M757.95,598.66C759.18,598.72 763.44,598.66 765.29,599.04C767.15,599.41 767.96,599.98 769.06,600.92C770.16,601.86 770.63,602.58 771.88,604.68C773.14,606.78 775.02,610.33 776.59,613.53C778.16,616.73 779.73,620.59 781.29,623.88C782.86,627.18 784.43,630.63 786,633.29C787.57,635.96 789.14,637.69 790.71,639.88C792.27,642.08 793.84,643.49 795.41,646.47C796.98,649.45 798.55,653.53 800.12,657.76C801.69,662 803.25,667.49 804.82,671.88C806.39,676.27 807.96,680.82 809.53,684.12C811.1,687.41 812.67,689.29 814.24,691.65C815.8,694 817.37,695.41 818.94,698.24C820.51,701.06 822.24,704.67 823.65,708.59C825.06,712.51 826,714.86 827.41,721.76C828.82,728.67 830.71,743.1 832.12,750C833.53,756.9 834.63,759.25 835.88,763.18C837.14,767.1 838.24,770.39 839.65,773.53C841.06,776.67 842.78,779.33 844.35,782C845.92,784.67 847.65,786.71 849.06,789.53C850.47,792.35 851.57,795.49 852.82,798.94C854.08,802.39 855.33,806.47 856.59,810.24C857.84,814 858.94,818.08 860.35,821.53C861.76,824.98 863.49,828.35 865.06,830.94C866.63,833.53 868.2,834.98 869.76,837.07C871.33,839.15 872.9,840.63 874.47,843.45C876.04,846.26 877.61,850.31 879.18,853.97C880.75,857.63 882.31,861.93 883.88,865.43C885.45,868.94 887.02,872.48 888.59,875.01C890.16,877.55 891.25,879.25 893.29,880.64C895.33,882.03 897.37,882.83 900.82,883.36C904.27,883.89 910.08,883.76 914,883.84C917.92,883.91 921.69,884.34 924.35,883.84C927.02,883.33 928.27,882.3 930,880.82C931.73,879.35 933.14,877.69 934.71,874.99C936.27,872.29 938,868.56 939.41,864.64C940.82,860.71 941.92,856.48 943.18,851.46C944.43,846.44 945.69,840.01 946.94,834.52C948.2,829.03 949.61,822.75 950.71,818.52C951.8,814.28 952.49,811.3 953.53,809.11C954.56,806.91 955.82,805.81 956.92,805.34C958.02,804.87 959.05,805.97 960.12,806.28C961.18,806.6 962.22,807.85 963.32,807.22C964.42,806.6 965.58,805.5 966.71,802.52C967.84,799.54 969,794.05 970.09,789.34C971.19,784.64 972.13,779.46 973.29,774.28C974.45,769.11 975.8,762.99 977.06,758.28C978.31,753.58 979.57,748.65 980.82,746.05C982.08,743.44 983.33,743.13 984.59,742.66C985.84,742.19 986.94,743.73 988.35,743.22C989.76,742.72 991.65,742.28 993.06,739.65C994.47,737.01 995.57,732.27 996.82,727.41C998.08,722.55 999.33,716.27 1000.59,710.47C1001.84,704.67 1003.1,697.61 1004.35,692.59C1005.61,687.57 1006.93,682.71 1008.12,680.35C1009.31,678 1010.41,678.47 1011.51,678.47C1012.6,678.47 1013.7,679.79 1014.71,680.35C1015.71,680.92 1016.43,682.17 1017.53,681.86C1018.63,681.55 1020.04,680.92 1021.29,678.47C1022.55,676.02 1023.8,671.88 1025.06,667.18C1026.31,662.47 1027.57,655.88 1028.82,650.24C1030.08,644.59 1031.33,638.31 1032.59,633.29C1033.84,628.27 1034.94,624.04 1036.35,620.12C1037.76,616.2 1039.49,612.43 1041.06,609.76C1042.63,607.1 1044.04,605.47 1045.76,604.12C1047.49,602.77 1049.22,602.2 1051.41,601.67C1053.61,601.14 1055.84,601.04 1058.94,600.92C1062.05,600.79 1068.2,600.92 1070.05,600.92" fill="none" stroke="#000" stroke-width="5.3"/>
<path d="M757.95,883.36C759.18,883.36 763.44,883.57 765.29,883.36C767.15,883.16 767.96,882.97 769.06,882.14C770.16,881.31 770.63,880.48 771.88,878.38C773.14,876.27 775.02,872.73 776.59,869.53C778.16,866.33 779.73,862.47 781.29,859.18C782.86,855.88 784.43,852.43 786,849.76C787.57,847.1 789.14,845.37 790.71,843.18C792.27,840.98 793.84,839.57 795.41,836.59C796.98,833.61 798.55,829.53 800.12,825.29C801.69,821.06 803.25,815.57 804.82,811.18C806.39,806.78 807.96,802.24 809.53,798.94C811.1,795.65 812.67,793.76 814.24,791.41C815.8,789.06 817.37,787.65 818.94,784.82C820.51,782 822.24,778.39 823.65,774.47C825.06,770.55 826.47,766 827.41,761.29C828.35,756.59 828.51,750.94 829.29,746.24C830.08,741.53 831.02,737.45 832.12,733.06C833.22,728.67 834.63,723.8 835.88,719.88C837.14,715.96 838.24,712.67 839.65,709.53C841.06,706.39 842.78,703.73 844.35,701.06C845.92,698.39 847.65,696.35 849.06,693.53C850.47,690.71 851.57,687.57 852.82,684.12C854.08,680.67 855.33,676.59 856.59,672.82C857.84,669.06 858.94,664.98 860.35,661.53C861.76,658.08 863.49,654.69 865.06,652.12C866.63,649.55 868.2,648.13 869.76,646.09C871.33,644.05 872.9,642.64 874.47,639.88C876.04,637.12 877.61,633.14 879.18,629.53C880.75,625.92 882.31,621.69 883.88,618.24C885.45,614.78 887.02,611.3 888.59,608.82C890.16,606.35 891.25,604.68 893.29,603.36C895.33,602.05 897.37,601.42 900.82,600.92C904.27,600.42 910.08,600.35 914,600.35C917.92,600.35 921.69,600.32 924.35,600.92C927.02,601.51 928.27,602.45 930,603.93C931.73,605.4 933.14,607.07 934.71,609.76C936.27,612.46 938,616.2 939.41,620.12C940.82,624.04 941.92,628.27 943.18,633.29C944.43,638.31 945.69,644.75 946.94,650.24C948.2,655.73 949.61,662 950.71,666.24C951.8,670.47 952.49,673.45 953.53,675.65C954.56,677.84 955.82,678.94 956.92,679.41C958.02,679.88 959.05,678.78 960.12,678.47C961.18,678.16 962.22,676.9 963.32,677.53C964.42,678.16 965.58,679.25 966.71,682.24C967.84,685.22 969,690.71 970.09,695.41C971.19,700.12 972.13,705.29 973.29,710.47C974.45,715.65 975.8,721.76 977.06,726.47C978.31,731.18 979.57,736.1 980.82,738.71C982.08,741.31 983.33,741.62 984.59,742.09C985.84,742.56 986.94,741.06 988.35,741.53C989.76,742 991.65,742.31 993.06,744.92C994.47,747.52 995.57,752.29 996.82,757.15C998.08,762.02 999.33,768.29 1000.59,774.09C1001.84,779.9 1003.1,786.96 1004.35,791.98C1005.61,797 1006.93,801.86 1008.12,804.21C1009.31,806.56 1010.41,806.09 1011.51,806.09C1012.6,806.09 1013.7,804.78 1014.71,804.21C1015.71,803.65 1016.43,802.39 1017.53,802.71C1018.63,803.02 1020.04,803.65 1021.29,806.09C1022.55,808.54 1023.8,812.68 1025.06,817.39C1026.31,822.09 1027.57,828.68 1028.82,834.33C1030.08,839.98 1031.33,846.25 1032.59,851.27C1033.84,856.29 1034.94,860.53 1036.35,864.45C1037.76,868.37 1039.49,872.13 1041.06,874.8C1042.63,877.47 1044.04,879.1 1045.76,880.45C1047.49,881.8 1049.22,882.41 1051.41,882.89C1053.61,883.38 1055.84,883.29 1058.94,883.36C1062.05,883.44 1068.2,883.36 1070.05,883.36" fill="none" stroke="#4682B4" stroke-width="5.3"/>
</g>
<rect x="758" y="598.7" width="312" height="285.7" fill="none" stroke="#000" stroke-width="3.05"/>
<g transform="translate(558.7,0.1)">
<text font-size="27.87"><tspan x="172.8" y="608" textLength="13.63" lengthAdjust="spacingAndGlyphs">1</tspan></text>
<text font-size="28.42"><tspan x="149.04" y="751.2" textLength="38.15" lengthAdjust="spacingAndGlyphs">0.5</tspan></text>
<text font-size="27.12"><tspan x="172.16" y="894.14" textLength="14.98" lengthAdjust="spacingAndGlyphs">0</tspan></text>
<text font-size="28.16"><tspan x="191.83" y="916.13" textLength="15.34" lengthAdjust="spacingAndGlyphs">0</tspan></text>
<text font-size="27.97"><tspan x="336.03" y="916" textLength="38.54" lengthAdjust="spacingAndGlyphs">0.9</tspan></text>
<text font-size="27.97"><tspan x="492.36" y="916" textLength="37.59" lengthAdjust="spacingAndGlyphs">1.8</tspan></text>
<text font-size="27"><tspan x="319.86" y="943.2" font-size="31.08" font-style="italic" textLength="9.74" lengthAdjust="spacingAndGlyphs">t</tspan><tspan x="335.52" y="943.93" font-size="30.88" textLength="13.85" lengthAdjust="spacingAndGlyphs"> (</tspan><tspan x="352.33" y="943.3" font-style="italic" textLength="14.96" lengthAdjust="spacingAndGlyphs">μ</tspan><tspan x="366.31" y="943.3" textLength="13.22" lengthAdjust="spacingAndGlyphs">s</tspan><tspan x="378.92" y="943.93" font-size="30.88" textLength="10.11" lengthAdjust="spacingAndGlyphs">)</tspan></text>
<text font-size="28.4" transform="rotate(-90)"><tspan x="-809.88" y="141.4" textLength="132.24" lengthAdjust="spacingAndGlyphs">Population</tspan></text>
</g>
<clipPath id="clip1319"><rect x="1319.55" y="597.8" width="312.8" height="288.95"/></clipPath>
<line x1="1475.95" y1="599.3" x2="1475.95" y2="627.3" stroke="#000" stroke-width="2.8"/>
<line x1="1475.95" y1="885.25" x2="1475.95" y2="857.25" stroke="#000" stroke-width="2.8"/>
<line x1="1319.55" y1="742.48" x2="1347.15" y2="742.48" stroke="#000" stroke-width="2.8"/>
<line x1="1632.35" y1="742.48" x2="1604.75" y2="742.48" stroke="#000" stroke-width="2.8"/>
<g clip-path="url(#clip1319)" stroke-linejoin="round">
<path d="M1319.76,599.41C1320.86,599.44 1324.63,599.22 1326.35,599.6C1328.08,599.98 1329.02,600.51 1330.12,601.67C1331.22,602.83 1331.84,603.96 1332.94,606.56C1334.04,609.17 1335.29,613.31 1336.71,617.29C1338.12,621.28 1339.91,626.55 1341.41,630.47C1342.92,634.39 1344.33,638.31 1345.74,640.82C1347.15,643.33 1348.41,643.96 1349.88,645.53C1351.36,647.1 1353.18,647.88 1354.59,650.24C1356,652.59 1357.1,655.88 1358.35,659.65C1359.61,663.41 1360.86,668.43 1362.12,672.82C1363.37,677.22 1364.63,682.71 1365.88,686C1367.14,689.29 1368.39,691.33 1369.65,692.59C1370.9,693.84 1372.16,693.22 1373.41,693.53C1374.67,693.84 1375.92,692.9 1377.18,694.47C1378.43,696.04 1379.69,699.02 1380.94,702.94C1382.2,706.86 1383.45,712.67 1384.71,718C1385.96,723.33 1387.37,730.71 1388.47,734.94C1389.57,739.18 1390.2,741.09 1391.29,743.41C1392.39,745.73 1393.8,747.65 1395.06,748.87C1396.31,750.09 1397.57,749.34 1398.82,750.75C1400.08,752.16 1401.4,753.89 1402.59,757.34C1403.78,760.79 1404.88,766.91 1405.98,771.46C1407.07,776.01 1408.17,780.87 1409.18,784.64C1410.18,788.4 1411.06,791.79 1412,794.05C1412.94,796.31 1413.73,797.4 1414.82,798.19C1415.92,798.97 1417.49,798.66 1418.59,798.75C1419.69,798.85 1420.38,797.97 1421.41,798.75C1422.45,799.54 1423.7,800.79 1424.8,803.46C1425.9,806.13 1426.93,810.67 1428,814.75C1429.07,818.83 1430.1,823.85 1431.2,827.93C1432.3,832.01 1433.4,836.24 1434.59,839.22C1435.78,842.2 1437.1,843.93 1438.35,845.81C1439.61,847.69 1440.86,848.79 1442.12,850.52C1443.37,852.24 1444.63,853.81 1445.88,856.16C1447.14,858.52 1448.39,861.81 1449.65,864.64C1450.9,867.46 1452.16,870.53 1453.41,873.11C1454.67,875.68 1455.92,878.41 1457.18,880.07C1458.43,881.73 1459.37,882.39 1460.94,883.08C1462.51,883.77 1465.08,883.99 1466.59,884.21C1468.1,884.43 1467.11,884.4 1470,884.4C1472.89,884.4 1480.82,884.52 1483.9,884.2C1486.98,883.88 1487.05,883.68 1488.5,882.5C1489.95,881.32 1491.35,879.35 1492.6,877.1C1493.85,874.85 1494.95,872.08 1496,869C1497.05,865.92 1497.93,862.45 1498.9,858.6C1499.87,854.75 1500.83,850.33 1501.8,845.9C1502.77,841.47 1503.83,836.43 1504.7,832C1505.57,827.57 1506.23,822.87 1507,819.3C1507.77,815.73 1508.53,812.43 1509.3,810.6C1510.07,808.77 1510.73,808.3 1511.6,808.3C1512.47,808.3 1513.33,809.53 1514.5,810.6C1515.67,811.67 1517.35,814.6 1518.6,814.7C1519.85,814.8 1521.03,813.32 1522,811.2C1522.97,809.08 1523.62,805.7 1524.4,802C1525.18,798.3 1526.05,793.08 1526.7,789C1527.35,784.92 1527.67,780.98 1528.3,777.5C1528.93,774.02 1529.62,770.98 1530.5,768.1C1531.38,765.22 1532.3,760.38 1533.6,760.2C1534.9,760.02 1536.82,764.63 1538.3,767C1539.78,769.37 1541.35,774.22 1542.5,774.4C1543.65,774.58 1544.4,771.08 1545.2,768.1C1546,765.12 1546.6,760.53 1547.3,756.5C1548,752.47 1548.7,747.93 1549.4,743.9C1550.1,739.87 1550.8,735.98 1551.5,732.3C1552.2,728.62 1552.63,724.68 1553.6,721.8C1554.57,718.92 1555.98,715 1557.3,715C1558.62,715 1560.2,719.53 1561.5,721.8C1562.8,724.07 1563.88,727.98 1565.1,728.6C1566.32,729.22 1567.83,727.87 1568.8,725.5C1569.77,723.13 1570.1,719.23 1570.9,714.4C1571.7,709.57 1572.9,702.07 1573.6,696.5C1574.3,690.93 1574.5,684.73 1575.1,681C1575.7,677.27 1576.4,675.52 1577.2,674.1C1578,672.68 1578.93,672.32 1579.9,672.5C1580.87,672.68 1581.87,674.05 1583,675.2C1584.13,676.35 1585.47,679.23 1586.7,679.4C1587.93,679.57 1589.35,678.48 1590.4,676.2C1591.45,673.92 1592.13,669.9 1593,665.7C1593.87,661.5 1594.72,656.08 1595.6,651C1596.48,645.92 1597.33,640.28 1598.3,635.2C1599.27,630.12 1600.35,624.53 1601.4,620.5C1602.45,616.47 1603.55,613.45 1604.6,611C1605.65,608.55 1606.48,607.05 1607.7,605.8C1608.92,604.55 1610.32,603.95 1611.9,603.5C1613.48,603.05 1613.78,603.17 1617.2,603.1C1620.62,603.03 1629.87,603.1 1632.4,603.1" fill="none" stroke="#000" stroke-width="5.3"/>
<path d="M1319.76,884.4C1321.18,884.27 1326.04,884.65 1328.24,883.65C1330.43,882.64 1331.53,881.07 1332.94,878.38C1334.35,875.68 1335.29,871.47 1336.71,867.46C1338.12,863.44 1339.91,858.36 1341.41,854.28C1342.92,850.2 1344.33,845.65 1345.74,842.99C1347.15,840.32 1348.41,839.85 1349.88,838.28C1351.36,836.71 1353.18,835.93 1354.59,833.58C1356,831.22 1357.1,827.93 1358.35,824.16C1359.61,820.4 1360.86,815.38 1362.12,810.99C1363.37,806.6 1364.63,801.01 1365.88,797.81C1367.14,794.61 1368.39,792.95 1369.65,791.79C1370.9,790.63 1372.16,791.16 1373.41,790.85C1374.67,790.53 1375.92,791.57 1377.18,789.91C1378.43,788.24 1379.69,784.89 1380.94,780.87C1382.2,776.85 1383.61,770.52 1384.71,765.81C1385.8,761.11 1386.75,756.37 1387.53,752.64C1388.31,748.9 1388.47,745.73 1389.41,743.41C1390.35,741.09 1391.76,739.96 1393.18,738.71C1394.59,737.45 1396.47,737.29 1397.88,735.88C1399.29,734.47 1400.39,733.22 1401.65,730.24C1402.9,727.25 1404.16,722.55 1405.41,718C1406.67,713.45 1408.08,707.18 1409.18,702.94C1410.27,698.71 1411.06,695.16 1412,692.59C1412.94,690.02 1413.73,688.51 1414.82,687.51C1415.92,686.5 1417.49,686.72 1418.59,686.56C1419.69,686.41 1420.38,687.44 1421.41,686.56C1422.45,685.69 1423.7,683.9 1424.8,681.29C1425.9,678.69 1426.93,674.71 1428,670.94C1429.07,667.18 1430.1,662.78 1431.2,658.71C1432.3,654.63 1433.4,649.61 1434.59,646.47C1435.78,643.33 1437.1,641.76 1438.35,639.88C1439.61,638 1440.86,636.75 1442.12,635.18C1443.37,633.61 1444.63,632.51 1445.88,630.47C1447.14,628.43 1448.39,625.61 1449.65,622.94C1450.9,620.27 1452.16,616.98 1453.41,614.47C1454.67,611.96 1455.92,609.7 1457.18,607.88C1458.43,606.06 1459.37,604.53 1460.94,603.55C1462.51,602.58 1464.08,602.36 1466.59,602.05C1469.1,601.73 1473.18,601.67 1476,601.67C1478.82,601.67 1481.2,601.71 1483.53,602.05C1485.86,602.39 1488.4,602.56 1490,603.7C1491.6,604.84 1492.05,606.28 1493.1,608.9C1494.15,611.52 1495.25,615.18 1496.3,619.4C1497.35,623.62 1498.35,629.28 1499.4,634.2C1500.45,639.12 1501.55,644 1502.6,648.9C1503.65,653.8 1504.73,659.57 1505.7,663.6C1506.67,667.63 1507.43,670.92 1508.4,673.1C1509.37,675.28 1510.37,676.62 1511.5,676.7C1512.63,676.78 1514.05,674.6 1515.2,673.6C1516.35,672.6 1517.35,670.62 1518.4,670.7C1519.45,670.78 1520.63,672.13 1521.5,674.1C1522.37,676.07 1522.72,678.4 1523.6,682.5C1524.48,686.6 1525.83,693.73 1526.8,698.7C1527.77,703.67 1528.62,708.37 1529.4,712.3C1530.18,716.23 1530.8,720.02 1531.5,722.3C1532.2,724.58 1532.63,726.27 1533.6,726C1534.57,725.73 1535.9,722.88 1537.3,720.7C1538.7,718.52 1540.68,713.07 1542,712.9C1543.32,712.73 1544.23,716.28 1545.2,719.7C1546.17,723.12 1546.93,728.85 1547.8,733.4C1548.67,737.95 1549.52,742.45 1550.4,747C1551.28,751.55 1552.3,757.02 1553.1,760.7C1553.9,764.38 1554.5,767.17 1555.2,769.1C1555.9,771.03 1556.35,772.65 1557.3,772.3C1558.25,771.95 1559.68,769.2 1560.9,767C1562.12,764.8 1563.45,759.45 1564.6,759.1C1565.75,758.75 1566.83,761.83 1567.8,764.9C1568.77,767.97 1569.55,773.25 1570.4,777.5C1571.25,781.75 1572.1,786.32 1572.9,790.4C1573.7,794.48 1574.42,798.63 1575.2,802C1575.98,805.37 1576.73,808.68 1577.6,810.6C1578.47,812.52 1579.35,813.58 1580.4,813.5C1581.45,813.42 1582.73,811.05 1583.9,810.1C1585.07,809.15 1586.33,807.62 1587.4,807.8C1588.47,807.98 1589.33,808.9 1590.3,811.2C1591.27,813.5 1592.23,817.73 1593.2,821.6C1594.17,825.47 1595.15,830.15 1596.1,834.4C1597.05,838.65 1597.95,842.87 1598.9,847.1C1599.85,851.33 1600.83,855.95 1601.8,859.8C1602.77,863.65 1603.63,867.12 1604.7,870.2C1605.77,873.28 1606.95,876.2 1608.2,878.3C1609.45,880.4 1610.57,881.82 1612.2,882.8C1613.83,883.78 1614.65,883.92 1618,884.2C1621.35,884.48 1629.92,884.45 1632.3,884.5" fill="none" stroke="#4682B4" stroke-width="5.3"/>
</g>
<rect x="1319.55" y="599.3" width="312.8" height="285.95" fill="none" stroke="#000" stroke-width="3.05"/>
<g transform="translate(1120.5,0.7)">
<text font-size="27.87"><tspan x="172.8" y="608" textLength="13.63" lengthAdjust="spacingAndGlyphs">1</tspan></text>
<text font-size="28.42"><tspan x="149.04" y="751.2" textLength="38.15" lengthAdjust="spacingAndGlyphs">0.5</tspan></text>
<text font-size="27.12"><tspan x="172.16" y="894.14" textLength="14.98" lengthAdjust="spacingAndGlyphs">0</tspan></text>
<text font-size="28.16"><tspan x="191.83" y="916.13" textLength="15.34" lengthAdjust="spacingAndGlyphs">0</tspan></text>
<text font-size="27.97"><tspan x="336.03" y="916" textLength="38.54" lengthAdjust="spacingAndGlyphs">0.9</tspan></text>
<text font-size="27.97"><tspan x="492.36" y="916" textLength="37.59" lengthAdjust="spacingAndGlyphs">1.8</tspan></text>
<text font-size="27"><tspan x="319.86" y="943.2" font-size="31.08" font-style="italic" textLength="9.74" lengthAdjust="spacingAndGlyphs">t</tspan><tspan x="335.52" y="943.93" font-size="30.88" textLength="13.85" lengthAdjust="spacingAndGlyphs"> (</tspan><tspan x="352.33" y="943.3" font-style="italic" textLength="14.96" lengthAdjust="spacingAndGlyphs">μ</tspan><tspan x="366.31" y="943.3" textLength="13.22" lengthAdjust="spacingAndGlyphs">s</tspan><tspan x="378.92" y="943.93" font-size="30.88" textLength="10.11" lengthAdjust="spacingAndGlyphs">)</tspan></text>
<text font-size="28.4" transform="rotate(-90)"><tspan x="-809.88" y="141.4" textLength="132.24" lengthAdjust="spacingAndGlyphs">Population</tspan></text>
</g>
</g>
</svg>
</body>
</html>
